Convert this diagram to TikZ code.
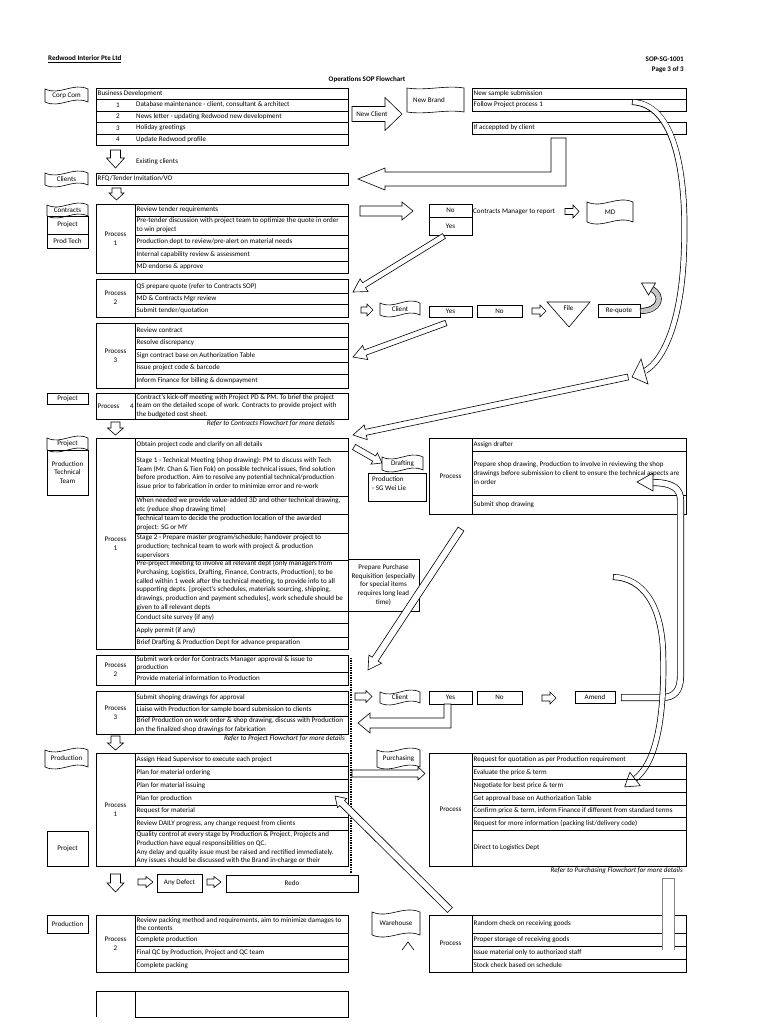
\documentclass[tikz,border=0pt]{standalone}
\usepackage{fontspec}
\setmainfont{Carlito}
\usetikzlibrary{calc}
\pgfdeclarelayer{fg}
\pgfsetlayers{main,fg}
\newcommand{\cf}{\fontsize{7.05}{8.75}\selectfont}
\tikzset{
 cellbox/.style={draw, line width=0.75pt, anchor=north west, inner sep=0pt, outer sep=0pt},
 celltext/.style={anchor=west, align=left, inner sep=0pt, font=\cf},
 ctext/.style={align=center, inner sep=0pt, font=\cf},
 blk/.style={draw, fill=white, line width=0.6pt, line join=miter},
 wave/.style={draw, fill=white, line width=0.6pt},
 note/.style={anchor=east, inner sep=0pt, font=\cf\itshape},
 hdr/.style={inner sep=0pt, font=\cf\bfseries},
}
% cell: name x y w h text (left aligned)
\newcommand{\mycell}[6]{%
 \node[cellbox, minimum width=#4pt, minimum height=#5pt] (#1) at (#2,#3) {};
 \begin{pgfonlayer}{fg}\node[celltext] at ([xshift=1.5pt]#1.west) {#6};\end{pgfonlayer}}
% box with centred text
\newcommand{\mybox}[6]{%
 \node[cellbox, minimum width=#4pt, minimum height=#5pt] (#1) at (#2,#3) {};
 \begin{pgfonlayer}{fg}\node[ctext] at (#1.center) {#6};\end{pgfonlayer}}
% numbered row
\newcommand{\numrow}[5]{%
 \node[cellbox, minimum width=252pt, minimum height=#3pt] (#1) at (96,#2) {};
 \begin{pgfonlayer}{fg}\node[ctext] at (118,#2+#3/2) {#4};
 \node[celltext] at (136,#2+#3/2) {#5};\end{pgfonlayer}}
% wavy banner: name x1 y1 x2 y2 text
\newcommand{\mybanner}[6]{%
 \pgfmathsetmacro\bw{#4-#2}%
 \draw[wave] (#2,#3) .. controls (#2+0.35*\bw,#3+7) and (#2+0.65*\bw,#3-7) .. (#4,#3) -- (#4,#5) .. controls (#2+0.65*\bw,#5-7) and (#2+0.35*\bw,#5+7) .. (#2,#5) -- cycle;
 \coordinate (#1) at ($(#2,#3)!0.5!(#4,#5)$);
 \begin{pgfonlayer}{fg}\node[ctext] at (#1) {#6};\end{pgfonlayer}}
% block arrow: from to shaft-half head-half head-length
\newcommand{\barrow}[5]{%
 \coordinate (bah) at ($(#2)!#5!(#1)$);
 \draw[blk] ($(#1)!#3!90:(#2)$) -- ($(bah)!#3!-90:(#1)$) -- ($(bah)!#4!-90:(#1)$) -- (#2) -- ($(bah)!#4!90:(#1)$) -- ($(bah)!#3!90:(#1)$) -- ($(#1)!#3!-90:(#2)$) -- cycle;}
% band: outer width, inner width, inner colour, path
\newcommand{\myband}[4]{%
 \draw[line width=#1pt] #4;
 \draw[#3, line width=#2pt, shorten <=0.7pt] #4;}
\begin{document}
\begin{tikzpicture}[x=1pt,y=-1pt]
\useasboundingbox[fill=white] (0,0) rectangle (768,1024);

% ---------- header
\node[hdr, anchor=west] (co) at (48,59) {\underline{Redwood Interior Pte Ltd}};
\node[hdr, anchor=east] (sop) at (684,59) {SOP-SG-1001};
\node[hdr, anchor=east] (pg) at (684,70) {Page 3 of 3};
\node[hdr] (ttl) at (367,80) {Operations SOP Flowchart};

% ---------- Corp Com
\mybanner{corp}{45}{89}{88}{102}{Corp Com}
\mycell{bd}{96}{88}{252}{11}{Business Development}
\numrow{bd1}{99}{12}{1}{Database maintenance - client, consultant \& architect}
\numrow{bd2}{111}{11}{2}{News letter - updating Redwood new development}
\numrow{bd3}{122}{12}{3}{Holiday greetings}
\numrow{bd4}{134}{11}{4}{Update Redwood profile}
\barrow{115.5,150}{115.5,168}{5pt}{9pt}{10pt}
\begin{pgfonlayer}{fg}\node[celltext] (ex) at (136,162) {Existing clients};\end{pgfonlayer}

\mybanner{cli}{45}{173}{88}{185}{Clients}
\mycell{rfq}{96}{173}{252}{12}{RFQ/Tender Invitation/VO}
\barrow{116.5,188}{116.5,200}{4.5pt}{7.5pt}{7pt}

% new client / brand
\barrow{352,114}{402,114}{7.5pt}{16.5pt}{17pt}
\begin{pgfonlayer}{fg}\node[ctext] (nc) at (372,114) {New Client};\end{pgfonlayer}
\draw[wave] (407,88) .. controls (427,91) and (445,85) .. (464,88) -- (464,112) .. controls (445,109) and (427,115) .. (407,112) -- cycle;
\begin{pgfonlayer}{fg}\node[ctext] (nb) at (429,100) {New Brand};\end{pgfonlayer}
\mycell{ns}{472}{88}{214}{11}{New sample submission}
\mycell{fp}{472}{99}{214}{12}{Follow Project process 1}
\mycell{ia}{472}{122}{214}{12}{If acceppted by client}
\draw[blk] (551,138) -- (566,138) -- (566,186) -- (385,186) -- (385,190) -- (358,179) -- (385,168) -- (385,172) -- (551,172) -- cycle;

% ---------- Contracts
\mybanner{con}{47}{205}{88}{216}{Contracts}
\mybox{prj1}{47}{216}{41}{18}{Project}
\mybox{pt}{47}{234}{41}{14}{Prod Tech}
\mybox{cp1}{96}{204}{39}{69}{Process\\1}
\mycell{c11}{135}{204}{213}{12}{Review tender requirements}
\mycell{c12}{135}{216}{213}{19}{Pre-tender discussion with project team to optimize the quote in order\\to win project}
\mycell{c13}{135}{235}{213}{13}{Production dept to review/pre-alert on material needs}
\mycell{c14}{135}{248}{213}{13}{Internal capability review \& assessment}
\mycell{c15}{135}{261}{213}{12}{MD endorse \& approve}

\mybox{cp2}{96}{279}{39}{38}{Process\\2}
\mycell{c21}{135}{279}{213}{14}{QS prepare quote (refer to Contracts SOP)}
\mycell{c22}{135}{293}{213}{11}{MD \& Contracts Mgr review}
\mycell{c23}{135}{304}{213}{13}{Submit tender/quotation}

\mybox{cp3}{96}{323}{39}{65}{Process\\3}
\mycell{c31}{135}{323}{213}{14}{Review contract}
\mycell{c32}{135}{337}{213}{12}{Resolve discrepancy}
\mycell{c33}{135}{349}{213}{13}{Sign contract base on Authorization Table}
\mycell{c34}{135}{362}{213}{12}{Issue project code \& barcode}
\mycell{c35}{135}{374}{213}{14}{Inform Finance for billing \& downpayment}

\mybox{prj2}{47}{393}{41}{11}{Project}
\mybox{cp4}{96}{393}{39}{26}{}
\begin{pgfonlayer}{fg}
\node[celltext] (p4a) at (97.5,406) {Process};
\node[ctext, anchor=east] (p4b) at (134,406) {4};
\end{pgfonlayer}
\mycell{c41}{135}{393}{213}{26}{Contract's kick-off meeting with Project PD \& PM. To brief the project\\team on the detailed scope of work. Contracts to provide project with\\the budgeted cost sheet.}
\begin{pgfonlayer}{fg}\node[note] (n1) at (335,423) {Refer to Contracts Flowchart for more details};\end{pgfonlayer}
\barrow{115.5,422}{115.5,435}{4.5pt}{8pt}{7pt}

% contracts right side
\barrow{360,211}{413,211}{5pt}{9pt}{11pt}
\mybox{no1}{429}{204}{43}{13}{No}
\mybox{yes1}{429}{217}{43}{18}{Yes}
\begin{pgfonlayer}{fg}\node[celltext] (cmr) at (473,212) {Contracts Manager to report};\end{pgfonlayer}
\barrow{565,211.5}{579,211.5}{3pt}{6.5pt}{6pt}
\mybanner{md}{587}{202}{633}{222}{MD}
\barrow{444,236}{353,292}{2.8pt}{7.5pt}{13pt}

\barrow{361,310}{373,310}{3pt}{6pt}{6pt}
\mybanner{cl1}{380}{303}{420}{315}{Client}
\mybox{yes2}{429}{306}{43}{11.5}{Yes}
\mybox{no2}{477}{305}{45}{12}{No}
\barrow{532,311}{546,311}{3pt}{6pt}{6pt}
\draw[blk] (547,302) -- (590,302) -- (569,327) -- cycle;
\begin{pgfonlayer}{fg}\node[ctext] (file) at (568.5,308) {File};\end{pgfonlayer}
\mybox{rq}{598}{304}{42}{13}{Re-quote}
\barrow{446,323}{353,357}{2.8pt}{7.5pt}{13pt}
% re-quote curved arrow
\myband{6}{4.6}{gray!45}{(640,311) .. controls (660,311) and (664,296) .. (652,289)}
\draw[blk] (655.5,283) -- (641.5,283) -- (648.5,295) -- cycle;

% long arrow to project section
\barrow{628,377}{353,435}{3pt}{7.5pt}{13pt}
% big curved arrow from new sample submission
\myband{6}{4.6}{white}{(632,102) .. controls (674,104) and (687,170) .. (684,250) .. controls (682,320) and (664,360) .. (645,371)}
\draw[blk] (641,359) -- (632,377) -- (648,384) -- cycle;

% ---------- Project
\mybanner{prjb}{47}{438}{88}{450}{Project}
\mybox{ptt}{47}{450}{41}{45}{Production\\Technical\\Team}
\mybox{pp1}{96}{438}{39}{211}{Process\\1}
\mycell{p11}{135}{438}{213}{13}{Obtain project code and clarify on all details}
\mycell{p12}{135}{451}{213}{45}{Stage 1 - Technical Meeting (shop drawing): PM to discuss with Tech\\Team (Mr. Chan \& Tien Fok) on possible technical issues, find solution\\before production. Aim to resolve any potential technical/production\\issue prior to fabrication in order to minimize error and re-work}
\mycell{p13}{135}{496}{213}{18}{When needed we provide value-added 3D and other technical drawing,\\etc (reduce shop drawing time)}
\mycell{p14}{135}{514}{213}{19}{Technical team to decide the production location of the awarded\\project: SG or MY}
\mycell{p15}{135}{533}{213}{27}{Stage 2 - Prepare master program/schedule; handover project to\\production; technical team to work with project \& production\\supervisors}
\mycell{p16}{135}{560}{213}{51}{Pre-project meeting to involve all relevant dept (only managers from\\Purchasing, Logistics, Drafting, Finance, Contracts, Production), to be\\called within 1 week after the technical meeting, to provide info to all\\supporting depts. [project's schedules, materials sourcing, shipping,\\drawings, production and payment schedules], work schedule should be\\given to all relevant depts}
\mycell{p17}{135}{611}{213}{12}{Conduct site survey (if any)}
\mycell{p18}{135}{623}{213}{14}{Apply permit (if any)}
\mycell{p19}{135}{637}{213}{12}{Brief Drafting \& Production Dept for advance preparation}

\mybox{ppr}{348}{559}{71}{52}{Prepare Purchase\\Requisition (especially\\for special items\\requires long lead\\time)}

% drafting
\barrow{354,447}{382,463}{3pt}{6.5pt}{9pt}
\mybanner{dr}{382}{457}{423}{470}{Drafting}
\node[cellbox, minimum width=58pt, minimum height=28pt] (sgw) at (368,473) {};
\begin{pgfonlayer}{fg}\node[celltext] (sgwt) at (372,483.5) {Production\\- SG Wei Lie};\end{pgfonlayer}
\mybox{dp}{429}{438}{43}{76}{Process}
\mycell{d1}{472}{438}{214}{13}{Assign drafter}
\mycell{d2}{472}{451}{214}{44}{Prepare shop drawing, Production to involve in reviewing the shop\\drawings before submission to client to ensure the technical aspects are\\in order}
\mycell{d3}{472}{495}{214}{19}{Submit shop drawing}

\barrow{461,529}{368,670}{3.5pt}{7.5pt}{13pt}

% project process 2 / 3
\mybox{pp2}{96}{655}{39}{30}{Process\\2}
\mycell{p21}{135}{655}{213}{17}{Submit work order for Contracts Manager approval \& issue to\\production}
\mycell{p22}{135}{672}{213}{13}{Provide material information to Production}
\mybox{pp3}{96}{691}{39}{43}{Process\\3}
\mycell{p31}{135}{691}{213}{13}{Submit shoping drawings for approval}
\mycell{p32}{135}{704}{213}{12}{Liaise with Production for sample board submission to clients}
\mycell{p33}{135}{716}{213}{18}{Brief Production on work order \& shop drawing, discuss with Production\\on the finalized shop drawings for fabrication}
\begin{pgfonlayer}{fg}\node[note] (n2) at (345,739) {Refer to Project Flowchart for more details};\end{pgfonlayer}
\barrow{115.5,736}{115.5,750}{4.5pt}{8pt}{7pt}

\draw[line width=1.6pt, dash pattern=on 1pt off 0.7pt] (351,658) -- (351,873);

\barrow{355,696.5}{372,696.5}{3.5pt}{6pt}{6pt}
\mybanner{cl2}{380}{692}{420}{703}{Client}
\mybox{yes3}{429}{691}{43}{13}{Yes}
\mybox{no3}{477}{691}{45}{13}{No}
\barrow{542,698}{556,698}{3pt}{6pt}{6pt}
\mybox{am}{575}{691}{40}{12}{Amend}
\draw[blk] (444,704) -- (451,704) -- (451,728) -- (370,728) -- (370,733) -- (358,723) -- (370,713) -- (370,718) -- (444,718) -- cycle;

% curved arrow amend -> drafting
\myband{7}{5.6}{white}{(621,697.5) -- (662,697.5) .. controls (675,697.5) and (680.5,690) .. (680.5,676) -- (680.5,500) .. controls (680.5,489) and (673,482.5) .. (652,482.5)}
\draw[blk] (653,473) -- (637,482) -- (653,491) -- cycle;
% curved arrow to purchasing
\myband{6}{4.6}{white}{(613,577) .. controls (643,578) and (661,605) .. (663,650) .. controls (665,715) and (657,762) .. (635,779)}
\draw[blk] (629.8,772.3) -- (624.7,786.9) -- (640.2,785.7) -- cycle;

% ---------- Production
\mybanner{prod}{45}{750}{88}{767}{Production}
\mybox{pr1}{96}{753}{39}{113}{Process\\1}
\mycell{r11}{135}{753}{213}{13}{Assign Head Supervisor to execute each project}
\mycell{r12}{135}{766}{213}{13}{Plan for material ordering}
\mycell{r13}{135}{779}{213}{13}{Plan for material issuing}
\mycell{r14}{135}{792}{213}{13}{Plan for production}
\mycell{r15}{135}{805}{213}{12}{Request for material}
\mycell{r16}{135}{817}{213}{13}{Review DAILY progress, any change request from clients}
\mycell{r17}{135}{830}{213}{36}{Quality control at every stage by Production \& Project, Projects and\\Production have equal responsibilities on QC.\\Any delay and quality issue must be raised and rectified immediately.\\Any issues should be discussed with the Brand in-charge or their}
\mybox{prj3}{47}{831}{41}{35}{Project}

% purchasing
\mybanner{pur}{377}{750}{420}{767}{Purchasing}
\barrow{352,773.5}{425,773.5}{3.5pt}{6.5pt}{7pt}
\mybox{up}{429}{753}{43}{113}{Process}
\mycell{u1}{472}{753}{214}{13}{Request for quotation as per Production requirement}
\mycell{u2}{472}{766}{214}{13}{Evaluate the price \& term}
\mycell{u3}{472}{779}{214}{13}{Negotiate for best price \& term}
\mycell{u4}{472}{792}{214}{13}{Get approval base on Authorization Table}
\mycell{u5}{472}{805}{214}{12}{Confirm price \& term, inform Finance if different from standard terms}
\mycell{u6}{472}{817}{214}{13}{Request for more information (packing list/delivery code)}
\mycell{u7}{472}{830}{214}{36}{Direct to Logistics Dept}
\begin{pgfonlayer}{fg}\node[note] (n3) at (683,871) {Refer to Purchasing Flowchart for more details};\end{pgfonlayer}

% defect row
\barrow{115.5,874}{115.5,892}{5pt}{8.5pt}{9pt}
\barrow{138,882}{153,882}{3pt}{5.5pt}{7pt}
\mybox{ad}{157}{874}{45}{18}{Any Defect}
\barrow{207,882}{221,882}{3pt}{5.5pt}{7pt}
\mybox{redo}{226}{875}{132}{17}{Redo}

% production process 2
\mybox{prod2}{47}{915}{41}{18}{Production}
\mybox{pr2}{96}{915}{39}{57}{Process\\2}
\mycell{r21}{135}{915}{213}{18}{Review packing method and requirements, aim to minimize damages to\\the contents}
\mycell{r22}{135}{933}{213}{13}{Complete production}
\mycell{r23}{135}{946}{213}{13}{Final QC by Production, Project and QC team}
\mycell{r24}{135}{959}{213}{13}{Complete packing}

% warehouse
\mybanner{wh}{372}{912}{420}{935}{Warehouse}
\draw[line width=0.6pt] (402,950) -- (408,942) -- (414,950);
\mybox{wp}{429}{915}{43}{57}{Process}
\mycell{w1}{472}{915}{214}{18}{Random check on receiving goods}
\mycell{w2}{472}{933}{214}{13}{Proper storage of receiving goods}
\mycell{w3}{472}{946}{214}{13}{Issue material only to authorized staff}
\mycell{w4}{472}{959}{214}{13}{Stock check based on schedule}
\fill[white] (662,878) rectangle (674,950);
\draw[gray, line width=0.8pt] (662,950) -- (662,878) -- (674,878) -- (674,950);

\barrow{450,910}{335,796}{3.5pt}{6.5pt}{10pt}

% bottom partial table
\draw[line width=0.75pt] (96,1017) -- (96,991) -- (348,991) -- (348,1017) -- (135,1017) -- (135,991);
\end{tikzpicture}
\end{document}
